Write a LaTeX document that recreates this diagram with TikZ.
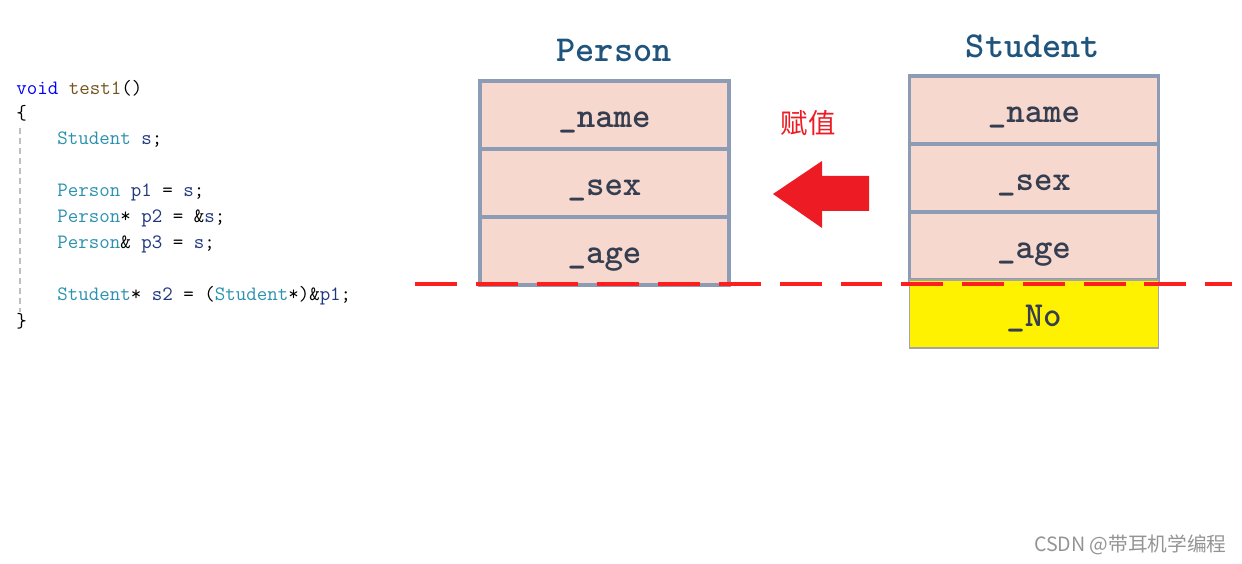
\documentclass[tikz,border=0pt]{standalone}
\usepackage{fontspec}
\newfontfamily\cjk{Noto Sans CJK SC}
\usetikzlibrary{positioning}

\definecolor{vskw}{RGB}{0,0,255}
\definecolor{vsfunc}{RGB}{116,83,31}
\definecolor{vstype}{RGB}{43,145,175}
\definecolor{vslocal}{RGB}{31,55,127}
\definecolor{titleblue}{RGB}{31,84,125}
\definecolor{boxfill}{RGB}{247,216,206}
\definecolor{boxline}{RGB}{140,156,180}
\definecolor{nobox}{RGB}{165,165,165}
\definecolor{fieldtext}{RGB}{52,62,80}
\definecolor{cutred}{RGB}{255,30,30}
\definecolor{arrowred}{RGB}{237,28,36}

\newcommand{\codekw}[1]{\textcolor{vskw}{#1}}
\newcommand{\codefn}[1]{\textcolor{vsfunc}{#1}}
\newcommand{\codety}[1]{\textcolor{vstype}{#1}}
\newcommand{\codelv}[1]{\textcolor{vslocal}{#1}}
\newcommand{\member}[1]{\raisebox{-0.25cm}[0pt][0pt]{#1}}

\tikzset{
  field/.style={draw=boxline, line width=2pt, fill=boxfill, minimum width=4.98cm,
    minimum height=1.36cm, text=fieldtext, font=\ttfamily\bfseries\fontsize{20}{24}\selectfont},
  extra/.style={field, draw=nobox, line width=0.7pt, fill=yellow},
  classname/.style={text=titleblue, font=\ttfamily\bfseries\fontsize{20.8}{25}\selectfont},
  codeline/.style={anchor=west, inner sep=0pt, font=\ttfamily\fontsize{11.6}{13}\selectfont}
}

\begin{document}
\begin{tikzpicture}[x=0.02cm, y=-0.02cm, node distance=1.36cm, on grid]
            \useasboundingbox (0,0) rectangle (1242,564);

            % source code on the left
            \node[codeline] (sig) at (16,88) {\codekw{void} \codefn{test1}()};
            \node[codeline] (lbrace) at (16,113) {\{};
            \node[codeline] (decl) at (57,140) {\codety{Student} \codelv{s};};
            \node[codeline] (copy) at (57,192) {\codety{Person} \codelv{p1} = \codelv{s};};
            \node[codeline] (ptr) at (57,218) {\codety{Person}* \codelv{p2} = \&\codelv{s};};
            \node[codeline] (ref) at (57,244) {\codety{Person}\& \codelv{p3} = \codelv{s};};
            \node[codeline] (cast) at (57,296) {\codety{Student}* \codelv{s2} = (\codety{Student}*)\&\codelv{p1};};
            \node[codeline] (rbrace) at (16,321) {\}};
            \coordinate (guideT) at (20,128);
            \coordinate (guideB) at (20,312);
            \draw[black!25, line width=0.6pt, dash pattern=on 3.4pt off 2.3pt] (guideT) -- (guideB);

            % base class object
            \node[classname] (Person) at (614,50) {Person};
            \node[field] (pname) at (604.5,115) {\member{\_name}};
            \node[field, below=of pname] (psex) {\member{\_sex}};
            \node[field, below=of psex] (page) {\member{\_age}};

            % derived class object
            \node[classname] (Student) at (1033,46) {Student};
            \node[field] (sname) at (1034,110) {\member{\_name}};
            \node[field, below=of sname] (ssex) {\member{\_sex}};
            \node[field, below=of ssex] (sage) {\member{\_age}};
            \node[extra, below=of sage] (sno) {\member{\_No}};

            % assignment arrow
            \node[text=arrowred, font=\cjk\fontsize{15.6}{18}\selectfont] (assign) at (808,123) {赋值};
            \fill[arrowred] (773,194) -- (822,161) -- (822,176) -- (869,176)
                -- (869,211) -- (822,211) -- (822,228) -- cycle;

            % slicing line
            \coordinate (cutL) at (415,284);
            \coordinate (cutR) at (1232,284);
            \draw[cutred, line width=2.2pt, dash pattern=on 23.8pt off 10.8pt] (cutL) -- (cutR);

            \node[anchor=east, inner sep=0pt, text=black!42, font=\cjk\fontsize{11.2}{13}\selectfont] (mark) at (1227,545) {CSDN @带耳机学编程};
        \end{tikzpicture}
\end{document}
